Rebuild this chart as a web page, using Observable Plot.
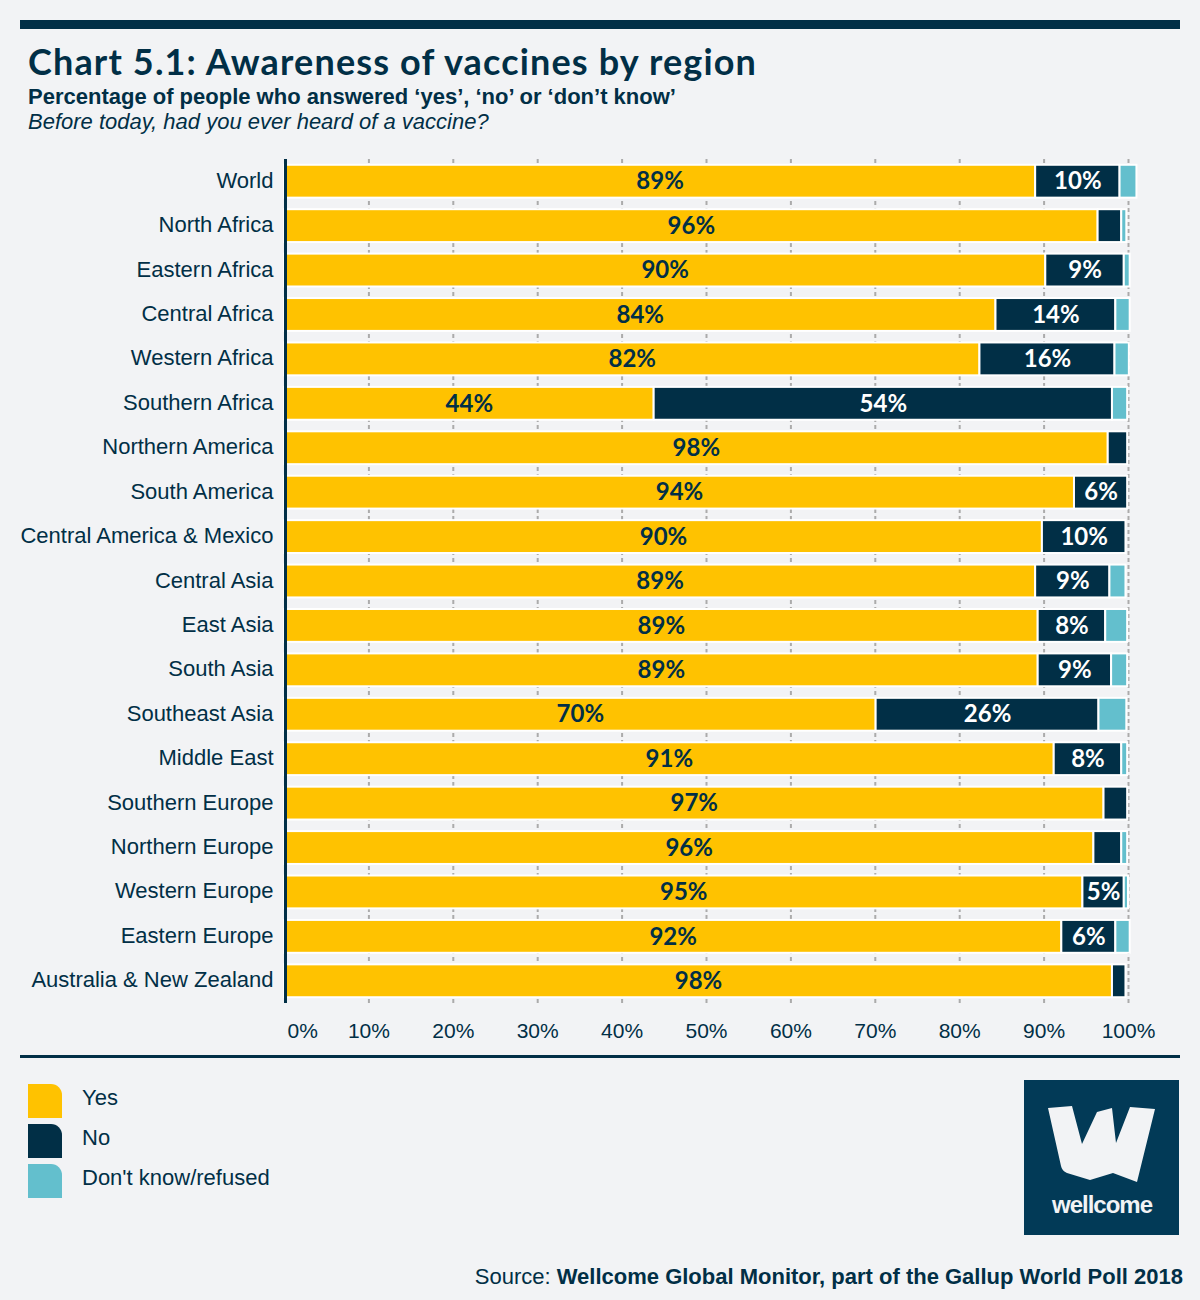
<!DOCTYPE html>
<html>
<head>
<meta charset="utf-8">
<script src="https://cdn.jsdelivr.net/npm/d3@7"></script>
<script src="https://cdn.jsdelivr.net/npm/@observablehq/plot@0.6"></script>
<style>
  body { margin: 0; background: #f2f3f5; }
  #page { position: relative; width: 1200px; height: 1300px; background: #f2f3f5; font-family: "Liberation Sans", Arial, sans-serif; color: #012f46; overflow: hidden; }
  .abs { position: absolute; white-space: nowrap; }
  .sw { position: absolute; left: 28px; width: 34px; height: 34px; border-top-right-radius: 11px; }
  .lg { position: absolute; left: 82px; font-size: 22px; line-height: 22px; }
</style>
</head>
<body>
<div id="page">
  <div class="abs" style="left:20px;top:20px;width:1160px;height:9px;background:#012f46"></div>
  <div class="abs" style="left:28px;top:44px;font-family:Lato,sans-serif;font-weight:700;font-size:36px;line-height:35px;letter-spacing:1.15px">Chart 5.1: Awareness of vaccines by region</div>
  <div class="abs" style="left:28px;top:86px;font-weight:700;font-size:22px;line-height:22px">Percentage of people who answered ‘yes’, ‘no’ or ‘don’t know’</div>
  <div class="abs" style="left:28px;top:111px;font-style:italic;font-size:22px;line-height:22px">Before today, had you ever heard of a vaccine?</div>
  <div id="chart" class="abs" style="left:0;top:150px"></div>
  <div class="abs" style="left:20px;top:1055px;width:1160px;height:3px;background:#012f46"></div>
  <div id="legend"></div>
  <svg class="abs" style="left:1024px;top:1080px" width="155" height="155" viewBox="0 0 155 155">
    <rect width="155" height="155" fill="#023a57"/>
    <path d="M24,28 L48,26 L58,64 L73,32 L88,28 L92,63 L106,27 L131,29 L113,102 L89,93 L66,100 L43,93 Q38,91 37,86 Z" fill="#f2f3f5"/>
    <text x="78" y="133" text-anchor="middle" font-family="Liberation Sans, Arial" font-weight="700" font-size="24" letter-spacing="-1" fill="#f2f3f5">wellcome</text>
  </svg>
  <div class="abs" style="right:17px;top:1266px;font-size:22px;line-height:22px">Source: <b>Wellcome Global Monitor, part of the Gallup World Poll 2018</b></div>
</div>
<script>
const regions = ["World","North Africa","Eastern Africa","Central Africa","Western Africa","Southern Africa","Northern America","South America","Central America & Mexico","Central Asia","East Asia","South Asia","Southeast Asia","Middle East","Southern Europe","Northern Europe","Western Europe","Eastern Europe","Australia & New Zealand"];
const yesValues = [89.0, 96.4, 90.2, 84.3, 82.4, 43.8, 97.6, 93.6, 89.8, 89.0, 89.3, 89.3, 70.1, 91.2, 97.1, 95.9, 94.6, 92.1, 98.1];
const noValues  = [10.0, 2.8, 9.3, 14.2, 16.0, 54.3, 2.3, 6.3, 9.9, 8.8, 8.0, 8.7, 26.4, 8.0, 2.8, 3.3, 4.9, 6.4, 1.6];
const dkValues  = [2.0, 0.6, 0.7, 1.7, 1.7, 1.8, 0, 0, 0, 1.9, 2.6, 1.9, 3.3, 0.7, 0, 0.7, 0.5, 1.7, 0];
const responses = ["Yes", "No", "Don't know/refused"];
const colors = ["#ffc200", "#012f46", "#63bfcd"];
const xTicks = [0, 10, 20, 30, 40, 50, 60, 70, 80, 90, 100];

const navy = "#012f46";
const series = [yesValues, noValues, dkValues];
const data = regions.flatMap((r, i) => responses.map((resp, j) => ({region: r, response: resp, value: series[j][i]}))).filter(d => d.value > 0);
const fmt = v => Math.round(v) + "%";
const labelFont = {fontFamily: "Lato, sans-serif", fontWeight: 700, fontSize: 24, letterSpacing: "0.6px"};

const chart = Plot.plot({
  width: 1200,
  height: 900,
  marginLeft: 284,
  marginRight: 72,
  marginTop: 9,
  marginBottom: 47,
  style: {background: "transparent", fontFamily: "Liberation Sans, Arial, sans-serif", color: navy},
  x: {domain: [0, 100]},
  y: {domain: regions, paddingInner: 0.26, paddingOuter: 0.13, round: false},
  color: {domain: responses, range: colors},
  marks: [
    Plot.gridX(xTicks.slice(1), {stroke: "#ababab", strokeOpacity: 1, strokeWidth: 2, strokeDasharray: "4,3"}),
    Plot.barX(data, {x: "value", y: "region", fill: "response", stroke: "white", strokeWidth: 2}),
    Plot.text(data, Plot.stackX({x: "value", y: "region", z: "response", text: d => d.response === "Yes" ? fmt(d.value) : "", fill: navy, ...labelFont})),
    Plot.text(data, Plot.stackX({x: "value", y: "region", z: "response", text: d => d.response === "No" && d.value >= 4.5 ? fmt(d.value) : "", fill: "white", ...labelFont})),
    Plot.ruleX([0], {stroke: navy, strokeWidth: 3, dx: 1}),
    Plot.axisY({tickSize: 0, tickPadding: 11, fontSize: 22, fill: navy, label: null, dy: -1}),
    Plot.axisX(xTicks.slice(1), {tickSize: 0, tickPadding: 20, fontSize: 21, fill: navy, label: null, tickFormat: d => d + "%"}),
    Plot.axisX([0], {tickSize: 0, tickPadding: 20, fontSize: 21, fill: navy, label: null, textAnchor: "start", dx: 3, tickFormat: d => d + "%"})
  ]
});
document.getElementById("chart").appendChild(chart);

const legend = document.getElementById("legend");
const tops = [1084, 1124, 1164];
responses.forEach((r, i) => {
  const sw = document.createElement("div");
  sw.className = "sw";
  sw.style.top = tops[i] + "px";
  sw.style.background = colors[i];
  legend.appendChild(sw);
  const lb = document.createElement("div");
  lb.className = "lg";
  lb.style.top = (tops[i] + 3) + "px";
  lb.textContent = r;
  legend.appendChild(lb);
});
</script>
</body>
</html>
